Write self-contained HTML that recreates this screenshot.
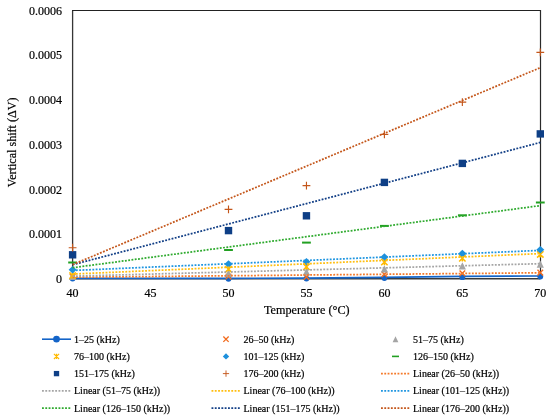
<!DOCTYPE html>
<html><head><meta charset="utf-8"><style>
html,body{margin:0;padding:0;background:#fff;width:550px;height:416px;overflow:hidden}
svg{display:block}
text{font-family:"Liberation Serif","Times New Roman",serif;fill:#000;stroke:#000;stroke-width:0.2px}
</style></head><body>
<svg width="550" height="416" viewBox="0 0 550 416">
<rect width="550" height="416" fill="#fff"/>
<text x="62" y="282.90" text-anchor="end" font-size="12">0</text>
<text x="62" y="238.20" text-anchor="end" font-size="12">0.0001</text>
<text x="62" y="193.50" text-anchor="end" font-size="12">0.0002</text>
<text x="62" y="148.80" text-anchor="end" font-size="12">0.0003</text>
<text x="62" y="104.10" text-anchor="end" font-size="12">0.0004</text>
<text x="62" y="59.40" text-anchor="end" font-size="12">0.0005</text>
<text x="62" y="14.70" text-anchor="end" font-size="12">0.0006</text>
<text x="72.60" y="297.2" text-anchor="middle" font-size="12">40</text>
<text x="150.55" y="297.2" text-anchor="middle" font-size="12">45</text>
<text x="228.50" y="297.2" text-anchor="middle" font-size="12">50</text>
<text x="306.45" y="297.2" text-anchor="middle" font-size="12">55</text>
<text x="384.40" y="297.2" text-anchor="middle" font-size="12">60</text>
<text x="462.35" y="297.2" text-anchor="middle" font-size="12">65</text>
<text x="540.30" y="297.2" text-anchor="middle" font-size="12">70</text>
<text x="306.8" y="313.9" text-anchor="middle" font-size="12.2">Temperature (°C)</text>
<text transform="translate(16.4,142.3) rotate(-90)" text-anchor="middle" font-size="12.1">Vertical shift (ΔV)</text>
<path d="M72.60 278.80V10.60" stroke="#363636" stroke-width="1.3" fill="none"/>
<path d="M72.00 10.5H540.90" stroke="#222" stroke-width="1.2" fill="none"/>
<path d="M540.5 10.00V278.80" stroke="#2a2a2a" stroke-width="1.2" fill="none"/>
<path d="M72.60 278.8H540.30" stroke="#3a3a3a" stroke-width="1.5" fill="none"/>
<polyline points="72.60,278.30 228.50,278.30 306.45,278.10 384.40,277.30 462.35,276.40 540.30,276.00" stroke="#1464C8" stroke-width="1.7" fill="none"/>
<circle cx="72.60" cy="278.60" r="2.90" fill="#1464C8"/>
<circle cx="228.50" cy="278.80" r="2.90" fill="#1464C8"/>
<circle cx="306.45" cy="278.60" r="2.90" fill="#1464C8"/>
<circle cx="384.40" cy="278.00" r="2.90" fill="#1464C8"/>
<circle cx="462.35" cy="277.20" r="2.90" fill="#1464C8"/>
<circle cx="540.30" cy="276.50" r="2.90" fill="#1464C8"/>
<path d="M69.80 274.00L75.40 279.60M75.40 274.00L69.80 279.60" stroke="#F26B1D" stroke-width="1.35" fill="none"/>
<path d="M225.70 273.70L231.30 279.30M231.30 273.70L225.70 279.30" stroke="#F26B1D" stroke-width="1.35" fill="none"/>
<path d="M303.65 274.10L309.25 279.70M309.25 274.10L303.65 279.70" stroke="#F26B1D" stroke-width="1.35" fill="none"/>
<path d="M381.60 271.50L387.20 277.10M387.20 271.50L381.60 277.10" stroke="#F26B1D" stroke-width="1.35" fill="none"/>
<path d="M459.55 270.40L465.15 276.00M465.15 270.40L459.55 276.00" stroke="#F26B1D" stroke-width="1.35" fill="none"/>
<path d="M537.50 269.80L543.10 275.40M543.10 269.80L537.50 275.40" stroke="#F26B1D" stroke-width="1.35" fill="none"/>
<path d="M72.60 272.50L76.20 279.90L69.00 279.90Z" fill="#A5A5A5"/>
<path d="M228.50 269.80L232.10 277.20L224.90 277.20Z" fill="#A5A5A5"/>
<path d="M306.45 268.10L310.05 275.50L302.85 275.50Z" fill="#A5A5A5"/>
<path d="M384.40 265.20L388.00 272.60L380.80 272.60Z" fill="#A5A5A5"/>
<path d="M462.35 262.20L465.95 269.60L458.75 269.60Z" fill="#A5A5A5"/>
<path d="M540.30 260.40L543.90 267.80L536.70 267.80Z" fill="#A5A5A5"/>
<path d="M69.40 272.40L75.80 278.80M75.80 272.40L69.40 278.80M72.60 272.40L72.60 278.80" stroke="#FFBA00" stroke-width="1.50" fill="none"/>
<path d="M225.30 266.00L231.70 272.40M231.70 266.00L225.30 272.40M228.50 266.00L228.50 272.40" stroke="#FFBA00" stroke-width="1.50" fill="none"/>
<path d="M303.25 263.60L309.65 270.00M309.65 263.60L303.25 270.00M306.45 263.60L306.45 270.00" stroke="#FFBA00" stroke-width="1.50" fill="none"/>
<path d="M381.20 258.90L387.60 265.30M387.60 258.90L381.20 265.30M384.40 258.90L384.40 265.30" stroke="#FFBA00" stroke-width="1.50" fill="none"/>
<path d="M459.15 255.10L465.55 261.50M465.55 255.10L459.15 261.50M462.35 255.10L462.35 261.50" stroke="#FFBA00" stroke-width="1.50" fill="none"/>
<path d="M537.10 251.20L543.50 257.60M543.50 251.20L537.10 257.60M540.30 251.20L540.30 257.60" stroke="#FFBA00" stroke-width="1.50" fill="none"/>
<path d="M72.60 266.00L76.60 269.80L72.60 273.60L68.60 269.80Z" fill="#1E90DC"/>
<path d="M228.50 260.30L232.50 264.10L228.50 267.90L224.50 264.10Z" fill="#1E90DC"/>
<path d="M306.45 257.90L310.45 261.70L306.45 265.50L302.45 261.70Z" fill="#1E90DC"/>
<path d="M384.40 253.30L388.40 257.10L384.40 260.90L380.40 257.10Z" fill="#1E90DC"/>
<path d="M462.35 249.80L466.35 253.60L462.35 257.40L458.35 253.60Z" fill="#1E90DC"/>
<path d="M540.30 246.00L544.30 249.80L540.30 253.60L536.30 249.80Z" fill="#1E90DC"/>
<path d="M68.20 262.50L77.00 262.50" stroke="#22A022" stroke-width="2.00"/>
<path d="M224.10 250.00L232.90 250.00" stroke="#22A022" stroke-width="2.00"/>
<path d="M302.05 242.60L310.85 242.60" stroke="#22A022" stroke-width="2.00"/>
<path d="M380.00 225.90L388.80 225.90" stroke="#22A022" stroke-width="2.00"/>
<path d="M457.95 215.30L466.75 215.30" stroke="#22A022" stroke-width="2.00"/>
<path d="M535.90 202.50L544.70 202.50" stroke="#22A022" stroke-width="2.00"/>
<rect x="68.90" y="251.10" width="7.40" height="7.40" fill="#0E3F86"/>
<rect x="224.80" y="226.90" width="7.40" height="7.40" fill="#0E3F86"/>
<rect x="302.75" y="212.10" width="7.40" height="7.40" fill="#0E3F86"/>
<rect x="380.70" y="178.70" width="7.40" height="7.40" fill="#0E3F86"/>
<rect x="458.65" y="159.70" width="7.40" height="7.40" fill="#0E3F86"/>
<rect x="536.60" y="130.20" width="7.40" height="7.40" fill="#0E3F86"/>
<path d="M68.70 247.70L76.50 247.70M72.60 243.80L72.60 251.60" stroke="#C4561A" stroke-width="1.15" fill="none"/>
<path d="M224.60 209.40L232.40 209.40M228.50 205.50L228.50 213.30" stroke="#C4561A" stroke-width="1.15" fill="none"/>
<path d="M302.55 185.60L310.35 185.60M306.45 181.70L306.45 189.50" stroke="#C4561A" stroke-width="1.15" fill="none"/>
<path d="M380.50 134.40L388.30 134.40M384.40 130.50L384.40 138.30" stroke="#C4561A" stroke-width="1.15" fill="none"/>
<path d="M458.45 102.10L466.25 102.10M462.35 98.20L462.35 106.00" stroke="#C4561A" stroke-width="1.15" fill="none"/>
<path d="M536.40 52.40L544.20 52.40M540.30 48.50L540.30 56.30" stroke="#C4561A" stroke-width="1.15" fill="none"/>
<line x1="72.60" y1="277.26" x2="540.30" y2="272.78" stroke="#F57A2A" stroke-width="1.75" stroke-dasharray="1.85 1.45"/>
<line x1="72.60" y1="276.17" x2="540.30" y2="263.68" stroke="#A5A5A5" stroke-width="1.75" stroke-dasharray="1.85 1.45"/>
<line x1="72.60" y1="274.07" x2="540.30" y2="253.57" stroke="#FFBE10" stroke-width="1.75" stroke-dasharray="1.85 1.45"/>
<line x1="72.60" y1="270.47" x2="540.30" y2="250.39" stroke="#1E95E0" stroke-width="1.75" stroke-dasharray="1.85 1.45"/>
<line x1="72.60" y1="267.72" x2="540.30" y2="205.63" stroke="#2EAA2E" stroke-width="1.75" stroke-dasharray="1.85 1.45"/>
<line x1="72.60" y1="264.72" x2="540.30" y2="142.46" stroke="#123F86" stroke-width="1.75" stroke-dasharray="1.85 1.45"/>
<line x1="72.60" y1="264.65" x2="540.30" y2="67.65" stroke="#C4561A" stroke-width="1.75" stroke-dasharray="1.85 1.45"/>
<line x1="42.00" y1="339.20" x2="71.00" y2="339.20" stroke="#1464C8" stroke-width="1.6"/>
<circle cx="56.50" cy="339.20" r="3.33" fill="#1464C8"/>
<text x="74.00" y="342.70" font-size="10">1–25 (kHz)</text>
<path d="M223.34 336.54L228.66 341.86M228.66 336.54L223.34 341.86" stroke="#F26B1D" stroke-width="1.28" fill="none"/>
<text x="243.50" y="342.70" font-size="10">26–50 (kHz)</text>
<path d="M395.50 336.24L398.38 342.16L392.62 342.16Z" fill="#A5A5A5"/>
<text x="413.00" y="342.70" font-size="10">51–75 (kHz)</text>
<path d="M53.94 353.84L59.06 358.96M59.06 353.84L53.94 358.96M56.50 353.84L56.50 358.96" stroke="#FFBA00" stroke-width="1.20" fill="none"/>
<text x="74.00" y="359.90" font-size="10">76–100 (kHz)</text>
<path d="M226.00 353.36L229.20 356.40L226.00 359.44L222.80 356.40Z" fill="#1E90DC"/>
<text x="243.50" y="359.90" font-size="10">101–125 (kHz)</text>
<path d="M391.98 356.40L399.02 356.40" stroke="#22A022" stroke-width="1.60"/>
<text x="413.00" y="359.90" font-size="10">126–150 (kHz)</text>
<rect x="53.84" y="370.94" width="5.33" height="5.33" fill="#0E3F86"/>
<text x="74.00" y="377.10" font-size="10">151–175 (kHz)</text>
<path d="M222.88 373.60L229.12 373.60M226.00 370.48L226.00 376.72" stroke="#C4561A" stroke-width="0.92" fill="none"/>
<text x="243.50" y="377.10" font-size="10">176–200 (kHz)</text>
<line x1="381.00" y1="373.60" x2="410.00" y2="373.60" stroke="#F57A2A" stroke-width="1.75" stroke-dasharray="1.85 1.45"/>
<text x="413.00" y="377.10" font-size="10">Linear (26–50 (kHz))</text>
<line x1="42.00" y1="390.80" x2="71.00" y2="390.80" stroke="#A5A5A5" stroke-width="1.75" stroke-dasharray="1.85 1.45"/>
<text x="74.00" y="394.30" font-size="10">Linear (51–75 (kHz))</text>
<line x1="211.50" y1="390.80" x2="240.50" y2="390.80" stroke="#FFBE10" stroke-width="1.75" stroke-dasharray="1.85 1.45"/>
<text x="243.50" y="394.30" font-size="10">Linear (76–100 (kHz))</text>
<line x1="381.00" y1="390.80" x2="410.00" y2="390.80" stroke="#1E95E0" stroke-width="1.75" stroke-dasharray="1.85 1.45"/>
<text x="413.00" y="394.30" font-size="10">Linear (101–125 (kHz))</text>
<line x1="42.00" y1="408.00" x2="71.00" y2="408.00" stroke="#2EAA2E" stroke-width="1.75" stroke-dasharray="1.85 1.45"/>
<text x="74.00" y="411.50" font-size="10">Linear (126–150 (kHz))</text>
<line x1="211.50" y1="408.00" x2="240.50" y2="408.00" stroke="#123F86" stroke-width="1.75" stroke-dasharray="1.85 1.45"/>
<text x="243.50" y="411.50" font-size="10">Linear (151–175 (kHz))</text>
<line x1="381.00" y1="408.00" x2="410.00" y2="408.00" stroke="#C4561A" stroke-width="1.75" stroke-dasharray="1.85 1.45"/>
<text x="413.00" y="411.50" font-size="10">Linear (176–200 (kHz))</text>
</svg></body></html>
